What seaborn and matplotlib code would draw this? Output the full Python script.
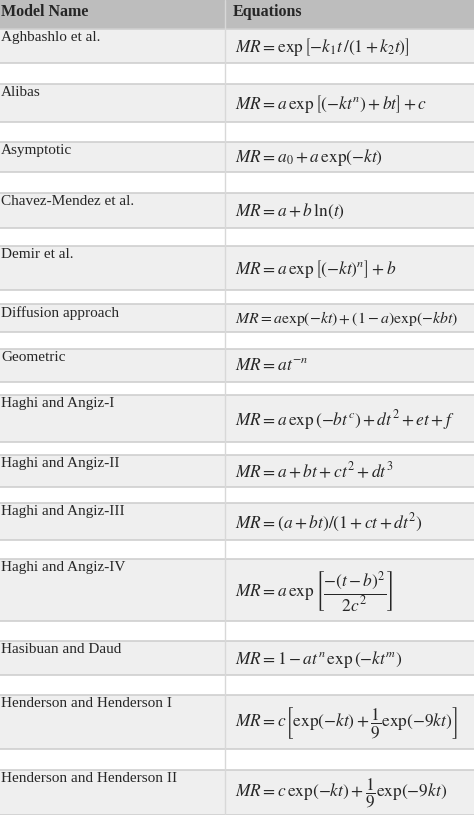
import matplotlib
matplotlib.use("Agg")
import matplotlib.pyplot as plt
import seaborn as sns

sns.set_style("white")
plt.rcParams['font.family'] = ['Liberation Serif', 'DejaVu Serif']
plt.rcParams['mathtext.fontset'] = 'stix'

header = ["Model Name", "Equations"]
models = ["Aghbashlo et al.", "Alibas", "Asymptotic", "Chavez-Mendez et al.", "Demir et al.",
          "Diffusion approach", "Geometric", "Haghi and Angiz-I", "Haghi and Angiz-II",
          "Haghi and Angiz-III", "Haghi and Angiz-IV", "Hasibuan and Daud",
          "Henderson and Henderson I", "Henderson and Henderson II"]
equations = [
    r'$MR=\exp\left[-k_1t\,/\left(1+k_2t\right)\right]$',
    r'$MR=a\,\exp\left[\left(-kt^n\right)+bt\right]+c$',
    r'$MR=a_0+a\,\exp(-kt)$',
    r'$MR=a+b\,\ln(t)$',
    r'$MR=a\,\exp\left[\left(-kt\right)^n\right]+b$',
    r'$MR=a\exp(-kt)+(1-a)\exp(-kbt)$',
    r'$MR=at^{-n}$',
    r'$MR=a\,\exp\left(-bt^c\right)+dt^2+et+f$',
    r'$MR=a+bt+ct^2+dt^3$',
    r'$MR=\left(a+bt\right)/\left(1+ct+dt^2\right)$',
    r'$MR=a\,\exp\left[\dfrac{-(t-b)^2}{2c^2}\right]$',
    r'$MR=1-at^n\,\exp\left(-kt^m\right)$',
    r'$MR=c\left[\exp(-kt)+\dfrac{1}{9}\exp(-9kt)\right]$',
    r'$MR=c\,\exp(-kt)+\dfrac{1}{9}\exp(-9kt)$',
]
eq_size = [12.5, 12.5, 12.5, 12.5, 12.5, 11.3, 12.5, 12.5, 12.5, 12.5, 12.5, 12.5, 12.5, 12.5]
row_top = [29, 84, 142, 193, 246, 304, 349, 395, 455, 503, 559, 641, 695, 770]
row_bot = [63, 122, 172, 228, 290, 332, 382, 442, 487, 540, 621, 675, 749, 815]

W, H = 474, 815
fig = plt.figure(figsize=(W/100, H/100), dpi=100)
ax = fig.add_axes([0, 0, 1, 1])
ax.set_xlim(0, W)
ax.set_ylim(H, 0)
ax.axis('off')

colx = 225
ax.axhspan(0, 29, color='#bdbdbd', lw=0)
ax.text(1, 12, header[0], fontsize=11.5, fontweight='bold', va='center', ha='left')
ax.text(colx + 8, 12, header[1], fontsize=11.5, fontweight='bold', va='center', ha='left')

for i, (name, eq) in enumerate(zip(models, equations)):
    t, b = row_top[i], row_bot[i]
    ax.axhspan(t, b, color='#efefef', lw=0)
    ax.axhline(t, color='#cfcfcf', lw=1.2)
    ax.axhline(b, color='#cfcfcf', lw=1.2)
    ax.text(1, t + 2, name, fontsize=11, va='top', ha='left')
    ax.text(colx + 10, (t + b) / 2 + 1, eq, fontsize=eq_size[i], va='center', ha='left')

ax.axvline(colx, color='#d8d8d8', lw=1)

fig.savefig("out.png", dpi=100)
